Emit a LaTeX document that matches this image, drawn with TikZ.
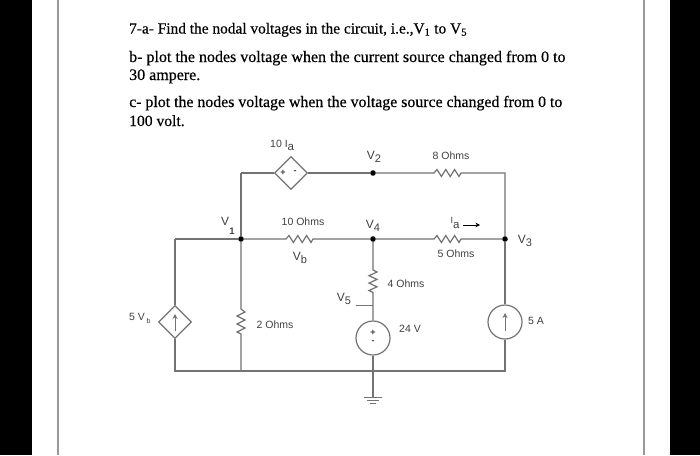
\documentclass[tikz,border=0pt]{standalone}
\usepackage{fontspec}
\newfontfamily\parafont[RawFeature={embolden=0.45}]{Liberation Serif}
\newfontfamily\cirfont{Liberation Sans}
\usetikzlibrary{arrows.meta,shapes.geometric}
\definecolor{wirec}{gray}{0.45}
\definecolor{txtc}{gray}{0.25}
\definecolor{barc}{gray}{0.6}
\newcommand{\subV}[1]{V\raisebox{-3.4pt}{\fontsize{11}{12}\selectfont #1}}
\newcommand{\subP}[2]{\raisebox{-3pt}{\fontsize{#1}{10}\selectfont #2}}
\tikzset{
 x=1pt,y=-1pt,
 wire/.style={draw=wirec,line width=1.2pt},
 thin wire/.style={draw=wirec,line width=0.9pt},
 dot/.style={circle,fill=black,inner sep=0pt,minimum size=5.6pt},
 para/.style={anchor=base west,inner sep=0pt,text=black,font=\fontsize{#1}{17}\parafont},
 lab/.style={inner sep=0pt,text=txtc,font=\fontsize{10.5}{12}\cirfont},
 vlab/.style={inner sep=0pt,text=txtc,font=\fontsize{12}{14}\cirfont},
 dsrc/.style={diamond,aspect=1,draw=wirec,line width=1.2pt,fill=white,inner sep=0pt,minimum size=33pt},
 csrc/.style={circle,draw=wirec,line width=1.2pt,fill=white,inner sep=0pt,minimum size=34pt},
 sign/.style={inner sep=0pt,text=txtc,font=\fontsize{9}{9}\cirfont\bfseries},
}
\begin{document}
\begin{tikzpicture}
\useasboundingbox (0,0) rectangle (700,455);
\fill[white] (0,0) rectangle (700,455);
\fill[black] (0,0) rectangle (32,455);
\fill[black] (670,0) rectangle (700,455);
\draw[barc,line width=1.2pt] (58,0) -- (58,455);
\draw[barc,line width=1.2pt] (644,0) -- (644,455);
% text
\node[para=15.37] (t1) at (129,33.5) {7-a- Find the nodal voltages in the circuit, i.e.,V\textsubscript{1} to V\textsubscript{5}};
\node[para=16] (t2) at (129,62) {b- plot the nodes voltage when the current source changed from 0 to};
\node[para=16] (t3) at (129,80) {30 ampere.};
\node[para=15.85] (t4) at (129,107) {c- plot the nodes voltage when the voltage source changed from 0 to};
\node[para=15.6] (t5) at (129,126) {100 volt.};
% junction coordinates
\coordinate (tl) at (241,173);
\coordinate (tr) at (505,173);
\coordinate (bl) at (175,371);
\coordinate (gj) at (373,371);
\coordinate (br) at (505,371);
\coordinate (b2) at (241,371);
\coordinate (ml) at (175,239);
\coordinate (gnd) at (373,397);
\coordinate (v5j) at (373,305);
\coordinate (v5t) at (356,305);
% nodes
\node[dot] (n1) at (241,239) {};
\node[dot] (n2) at (373,173) {};
\node[dot] (n4) at (373,239) {};
\node[dot] (n3) at (505,239) {};
\node[dsrc] (dtop) at (291,173) {};
\node[dsrc] (dleft) at (175,322) {};
\node[csrc] (cs) at (505,322) {};
\node[csrc] (vs) at (373,338) {};
% wires with resistors
\draw[wire] (tl) -- (dtop.west);
\draw[wire] (dtop.east) -- (n2);
\draw[wire] (tl) -- (n1);
\draw[wire] (ml) -- (n1);
\draw[wire] (n2) -- (434,173) -- ++(3,-3.5) -- ++(4.4,7) -- ++(4.4,-7) -- ++(4.4,7) -- ++(4.4,-7) -- ++(4.4,7) -- ++(2,-3.5) -- (tr) -- (n3);
\draw[wire] (n1) -- (286,239) -- ++(3,-3.5) -- ++(4.4,7) -- ++(4.4,-7) -- ++(4.4,7) -- ++(4.4,-7) -- ++(4.4,7) -- ++(2,-3.5) -- (n4);
\draw[wire] (n4) -- (434,239) -- ++(3,-3.5) -- ++(4.4,7) -- ++(4.4,-7) -- ++(4.4,7) -- ++(4.4,-7) -- ++(4.4,7) -- ++(2,-3.5) -- (n3);
\draw[wire] (n3) -- (cs.north);
\draw[wire] (cs.south) -- (br) -- (bl) -- (dleft.south);
\draw[wire] (dleft.north) -- (ml);
\draw[wire] (n1) -- (241,309) -- ++(4,3) -- ++(-8,4) -- ++(8,4) -- ++(-8,4) -- ++(8,4) -- ++(-8,4) -- ++(4,2) -- (b2);
\draw[wire] (n4) -- (373,270) -- ++(4,2) -- ++(-8,3.7) -- ++(8,3.7) -- ++(-8,3.7) -- ++(8,3.7) -- ++(-8,3.7) -- ++(4,2) -- (v5j) -- (vs.north);
\draw[thin wire] (v5j) -- (v5t);
\draw[wire] (vs.south) -- (gj) -- (gnd);
% ground
\draw[thin wire] (364,397) -- (382,397);
\draw[thin wire] (367,400) -- (379,400);
\draw[thin wire] (370,403) -- (376,403);
% arrows
\draw[wirec,line width=1pt,-{Stealth[length=5pt,width=5pt]}] (175,331) -- (175,314);
\draw[wirec,line width=1pt,-{Stealth[length=5pt,width=5pt]}] (505,331) -- (505,313);
\draw[black,line width=1pt,-{Stealth[length=4.5pt,width=4.5pt]}] (463,225) -- (480,225);
% signs
\node[sign] (dp) at (283,173) {+};
\node[sign] (dm) at (295,172.5) {-};
\node[sign] (vp) at (373,333) {+};
\node[sign] (vm) at (373,342) {-};
% labels
\node[lab,anchor=west] (l10ia) at (270,145) {10 I\subP{11.5}{a}};
\node[vlab] (lv2) at (374,157) {\subV{2}};
\node[lab] (l8) at (451,156) {8 Ohms};
\node[vlab] (lv1a) at (225,221) {V};
\node[lab,font=\bfseries\fontsize{9.5}{10}\cirfont] (lv1b) at (232,231) {1};
\node[lab] (l10) at (303,222) {10 Ohms};
\node[vlab] (lv4) at (373,226) {\subV{4}};
\node[vlab] (lia) at (455,223) {\raisebox{3pt}{\fontsize{9}{9}\selectfont I}\raisebox{-1.5pt}{\fontsize{11.5}{12}\selectfont a}};
\node[vlab] (lv3) at (525,241) {\subV{3}};
\node[lab] (l5) at (456,254) {5 Ohms};
\node[vlab] (lvb) at (300,258) {\subV{b}};
\node[lab] (l4) at (406,284) {4 Ohms};
\node[vlab] (lv5) at (344,299) {\subV{5}};
\node[lab] (l2) at (275,325) {2 Ohms};
\node[lab] (l24) at (410,329) {24 V};
\node[lab] (l5a) at (536,321) {5 A};
\node[lab,anchor=west] (l5v) at (129,318) {5 V\,\subP{7}{b}};
\end{tikzpicture}
\end{document}
